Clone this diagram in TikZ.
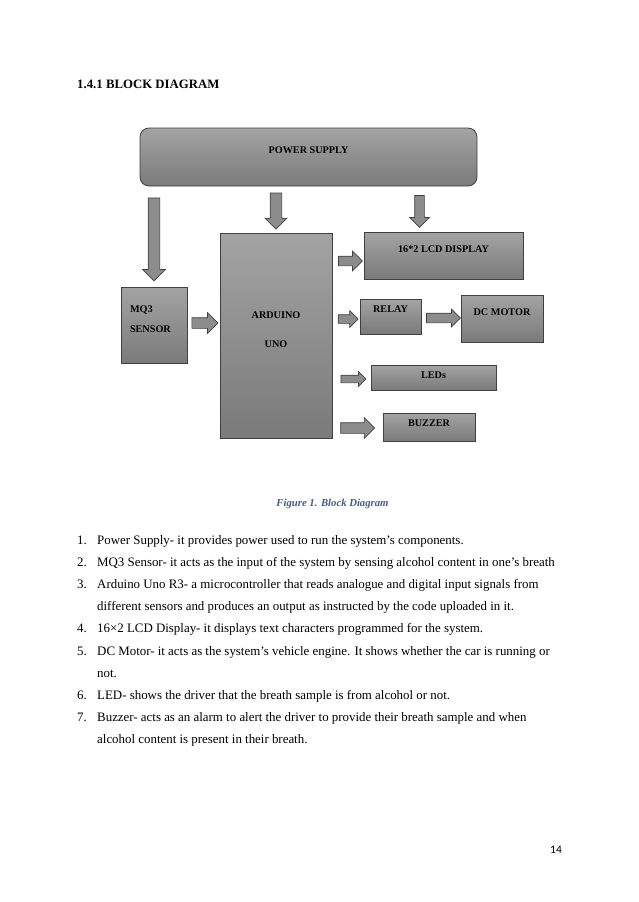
\documentclass[tikz,border=0pt]{standalone}
\usepackage{fontspec}
\setmainfont{Liberation Serif}
\newfontfamily\pagenofont{Carlito}
\usetikzlibrary{shapes.arrows}
\definecolor{capblue}{HTML}{405C8A}

\tikzset{
  unit/.style={draw=black!75, line width=.8pt, top color=black!36, bottom color=black!52,
    inner sep=0pt, font=\bfseries\fontsize{10.2}{12}\selectfont},
  lift/.style={text depth=#1},
  blk/.style={single arrow, draw=black!75, line width=.7pt, fill=black!45, inner xsep=0pt,
    inner ysep=#1, sloped, allow upside down},
  txt/.style={anchor=base west, inner sep=0pt, font=\fontsize{12.9}{15}\selectfont},
}

\begin{document}
\begin{tikzpicture}[x=1pt,y=1pt]
\useasboundingbox (0,0) rectangle (638,-902);
\node[anchor=base west, inner sep=0pt, font=\bfseries\fontsize{12.8}{15}\selectfont] (title) at (77,-88) {1.4.1 BLOCK DIAGRAM};

% blocks
\node[unit, rounded corners=9pt, minimum width=337pt, minimum height=58pt, lift=14pt] (ps) at (308.5,-157) {POWER SUPPLY};
\node[unit, minimum width=112pt, minimum height=205pt, align=center] (ard) at (276,-335.5) {ARDUINO\\[17pt]UNO\\\mbox{}};
\node[unit, minimum width=66pt, minimum height=76pt, text width=48pt, align=left] (mq) at (154,-325) {MQ3\\[8pt]SENSOR\\\mbox{}};
\node[unit, minimum width=159pt, minimum height=47pt, lift=13pt] (lcd) at (443.5,-255.5) {16*2 LCD DISPLAY};
\node[unit, minimum width=61pt, minimum height=35pt, lift=15pt] (relay) at (390.5,-316.5) {RELAY};
\node[unit, minimum width=82pt, minimum height=47pt, lift=13pt] (dc) at (502,-318.5) {DC MOTOR};
\node[unit, minimum width=125pt, minimum height=25pt, lift=5pt] (leds) at (433.5,-377.5) {LEDs};
\node[unit, minimum width=92pt, minimum height=28pt, lift=8pt] (buz) at (429,-427) {BUZZER};

% block arrows
\coordinate (lcdin) at ([xshift=-24pt]lcd.north);
\path (ps.south -| mq.north) -- node[blk=5.5pt, minimum height=83pt, minimum width=22pt, single arrow head extend=5.5pt] (a1) {} (mq.north);
\path (ps.south -| ard.north) -- node[blk=5.5pt, pos=.47, minimum height=36pt, minimum width=21pt, single arrow head extend=5pt] (a2) {} (ard.north);
\path (ps.south -| lcdin) -- node[blk=4.5pt, minimum height=32pt, minimum width=19pt, single arrow head extend=5pt] (a3) {} (lcdin);
\path ([yshift=2pt]mq.east) -- node[blk=5pt, pos=.46, minimum height=26pt, minimum width=20pt, single arrow head extend=5pt] (a4) {} ([yshift=2pt]mq.east -| ard.west);
\path ([yshift=-5.5pt]lcd.west -| ard.east) -- node[blk=4.5pt, minimum height=24pt, minimum width=19pt, single arrow head extend=5pt] (a5) {} ([yshift=-5.5pt]lcd.west);
\path ([yshift=-2.5pt]relay.west -| ard.east) -- node[blk=4pt, minimum height=20pt, minimum width=16pt, single arrow head extend=4pt] (a6) {} ([yshift=-2.5pt]relay.west);
\path ([yshift=-1.5pt]relay.east) -- node[blk=4.5pt, minimum height=34pt, minimum width=17pt, single arrow head extend=4pt] (a7) {} ([yshift=-1.5pt]relay.east -| dc.west);
\path ([yshift=-1.5pt]leds.west -| ard.east) -- node[blk=3.5pt, minimum height=25pt, minimum width=14pt, single arrow head extend=3.5pt] (a8) {} ([yshift=-1.5pt]leds.west);
\path ([yshift=-1pt]buz.west -| ard.east) -- node[blk=5pt, pos=.45, minimum height=34pt, minimum width=20pt, single arrow head extend=5pt] (a9) {} ([yshift=-1pt]buz.west);

\node[anchor=base, inner sep=0pt, text=capblue, font=\bfseries\itshape\fontsize{10.7}{13}\selectfont] (cap) at (332.5,-506.5) {Figure 1. Block Diagram};

% list
\node[txt] (n1) at (77,-544.5) {1.};
\node[txt] (t1) at (97,-544.5) {Power Supply- it provides power used to run the system’s components.};
\node[txt] (n2) at (77,-566.5) {2.};
\node[txt] (t2) at (97,-566.5) {MQ3 Sensor- it acts as the input of the system by sensing alcohol content in one’s breath};
\node[txt] (n3) at (77,-588.5) {3.};
\node[txt] (t3) at (97,-588.5) {Arduino Uno R3- a microcontroller that reads analogue and digital input signals from};
\node[txt] (t3b) at (97,-610.5) {different sensors and produces an output as instructed by the code uploaded in it.};
\node[txt] (n4) at (77,-632.5) {4.};
\node[txt] (t4) at (97,-632.5) {16×2 LCD Display- it displays text characters programmed for the system.};
\node[txt] (n5) at (77,-655.5) {5.};
\node[txt] (t5) at (97,-655.5) {DC Motor- it acts as the system’s vehicle engine. It shows whether the car is running or};
\node[txt] (t5b) at (97,-677.5) {not.};
\node[txt] (n6) at (77,-699.5) {6.};
\node[txt] (t6) at (97,-699.5) {LED- shows the driver that the breath sample is from alcohol or not.};
\node[txt] (n7) at (77,-721.5) {7.};
\node[txt] (t7) at (97,-721.5) {Buzzer- acts as an alarm to alert the driver to provide their breath sample and when};
\node[txt] (t7b) at (97,-743.5) {alcohol content is present in their breath.};

\node[inner sep=0pt, font=\pagenofont\fontsize{11.5}{13}\selectfont] (pg) at (556,-850) {14};
\end{tikzpicture}
\end{document}
